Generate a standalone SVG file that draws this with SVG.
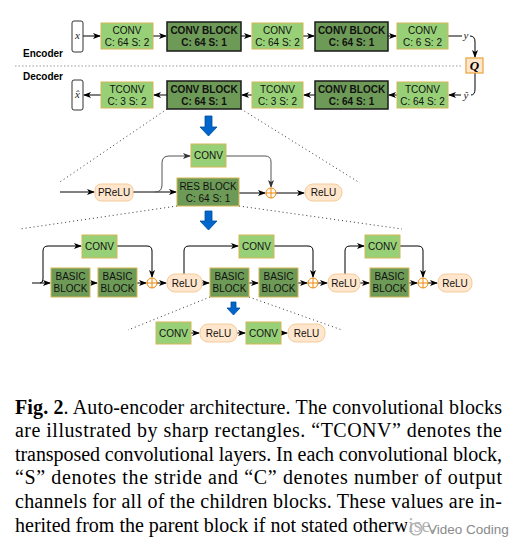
<svg xmlns="http://www.w3.org/2000/svg" width="518" height="554" viewBox="0 0 518 554">
<style>
.lg{fill:#97d077;stroke:#d6b656;stroke-width:1}
.dg{fill:#6d9a56;stroke:#1a1a1a;stroke-width:1.5}
.bb{fill:#6d9a56;stroke:#d6b656;stroke-width:1}
.pill{fill:#ffe6cc;stroke:#f3cc9a;stroke-width:1}
.io{fill:#fff;stroke:#333;stroke-width:1}
.t{font-family:"Liberation Sans",Arial,sans-serif;font-size:10px;text-anchor:middle;fill:#111}
.tb{font-family:"Liberation Sans",Arial,sans-serif;font-size:10px;font-weight:bold;text-anchor:middle;fill:#111}
.m{font-family:"Liberation Serif","Times New Roman",serif;font-style:italic;font-size:11px;text-anchor:middle;fill:#222}
.ln{fill:none;stroke:#000;stroke-width:1}
.gl{fill:none;stroke:#555;stroke-width:1}
.dot{fill:none;stroke:#333;stroke-width:1;stroke-dasharray:1,3}
.plus{fill:#fff;stroke:#f08705;stroke-width:1}
.blue{fill:#0066cc;stroke:#004c99;stroke-width:0.8}
.cap{font-family:"Liberation Serif","Times New Roman",serif;font-size:20px;fill:#000}
</style>
<defs>
<marker id="ar" markerWidth="8" markerHeight="6" refX="7" refY="3" orient="auto" markerUnits="userSpaceOnUse">
<path d="M0,0 L8,3 L0,6 L2,3 z" fill="#000"/>
</marker>
<marker id="ag" markerWidth="8" markerHeight="6" refX="7" refY="3" orient="auto" markerUnits="userSpaceOnUse">
<path d="M0,0 L8,3 L0,6 L2,3 z" fill="#333"/>
</marker>
</defs>
<rect width="518" height="554" fill="#fff"/>

<!-- labels -->
<text x="23" y="57" style="font-family:'Liberation Sans',Arial,sans-serif;font-size:10px;font-weight:bold">Encoder</text>
<text x="23" y="80" style="font-family:'Liberation Sans',Arial,sans-serif;font-size:10px;font-weight:bold">Decoder</text>
<line x1="15" y1="66" x2="462" y2="66" stroke="#999" stroke-width="1" stroke-dasharray="1.5,2"/>

<!-- connectors -->
<g id="connectors">
<line class="ln" x1="83" y1="36" x2="100" y2="36" marker-end="url(#ar)"/>
<line class="ln" x1="153" y1="36" x2="166" y2="36" marker-end="url(#ar)"/>
<line class="ln" x1="241" y1="36" x2="251" y2="36" marker-end="url(#ar)"/>
<line class="ln" x1="303" y1="36" x2="314" y2="36" marker-end="url(#ar)"/>
<line class="ln" x1="388" y1="36" x2="396" y2="36" marker-end="url(#ar)"/>
<line class="ln" x1="448" y1="36" x2="462" y2="36"/>
<path class="ln" d="M470,36 Q475,36 475,42 L475,57" marker-end="url(#ar)"/>
<path class="ln" d="M475,73 L475,89 Q475,95 471,95"/>
<line class="ln" x1="461" y1="95" x2="449" y2="95" marker-end="url(#ar)"/>
<line class="ln" x1="397" y1="95" x2="389" y2="95" marker-end="url(#ar)"/>
<line class="ln" x1="315" y1="95" x2="304" y2="95" marker-end="url(#ar)"/>
<line class="ln" x1="252" y1="95" x2="242" y2="95" marker-end="url(#ar)"/>
<line class="ln" x1="167" y1="95" x2="154" y2="95" marker-end="url(#ar)"/>
<line class="ln" x1="101" y1="95" x2="84" y2="95" marker-end="url(#ar)"/>

<!-- dotted expansions -->
<line class="dot" x1="167" y1="109" x2="60" y2="182"/>
<line class="dot" x1="241" y1="109" x2="360" y2="183"/>
<line class="dot" x1="177" y1="206" x2="20" y2="229"/>
<line class="dot" x1="239" y1="206" x2="402" y2="229"/>
<line class="dot" x1="210" y1="297" x2="128" y2="330"/>
<line class="dot" x1="249" y1="297" x2="342" y2="330"/>

<!-- residual block level -->
<line class="ln" x1="60" y1="192" x2="94" y2="192" marker-end="url(#ar)"/>
<line class="ln" x1="133" y1="192" x2="176" y2="192" marker-end="url(#ar)"/>
<path class="gl" d="M155,192 Q162,192 162,185 L162,163 Q162,156 169,156 L190,156" marker-end="url(#ag)"/>
<path class="gl" d="M226,156 L265,156 Q271,156 271,162 L271,187" marker-end="url(#ag)"/>
<line class="ln" x1="239" y1="193" x2="265" y2="193" marker-end="url(#ar)"/>
<line class="ln" x1="276" y1="193" x2="304" y2="193" marker-end="url(#ar)"/>

<!-- basic block level -->
<line class="ln" x1="32" y1="283" x2="50" y2="283" marker-end="url(#ar)"/>
<path class="ln" d="M40,283 Q43,283 43,279 L43,251 Q43,246 48,246 L81,246" marker-end="url(#ar)"/>
<line class="ln" x1="90" y1="283" x2="97" y2="283" marker-end="url(#ar)"/>
<line class="ln" x1="137" y1="283" x2="146" y2="283" marker-end="url(#ar)"/>
<path class="ln" d="M117,246 L147,246 Q152,246 152,251 L152,277" marker-end="url(#ar)"/>
<line class="ln" x1="157" y1="283" x2="166" y2="283" marker-end="url(#ar)"/>
<line class="ln" x1="202" y1="283" x2="209" y2="283" marker-end="url(#ar)"/>
<path class="ln" d="M184,274 L184,251 Q184,246 189,246 L238,246" marker-end="url(#ar)"/>
<line class="ln" x1="249" y1="283" x2="258" y2="283" marker-end="url(#ar)"/>
<line class="ln" x1="298" y1="283" x2="307" y2="283" marker-end="url(#ar)"/>
<path class="ln" d="M274,246 L308,246 Q313,246 313,251 L313,277" marker-end="url(#ar)"/>
<line class="ln" x1="318" y1="283" x2="327" y2="283" marker-end="url(#ar)"/>
<line class="ln" x1="360" y1="283" x2="369" y2="283" marker-end="url(#ar)"/>
<path class="ln" d="M345,274 L345,251 Q345,246 350,246 L364,246" marker-end="url(#ar)"/>
<line class="ln" x1="409" y1="283" x2="417" y2="283" marker-end="url(#ar)"/>
<path class="ln" d="M400,246 L418,246 Q423,246 423,251 L423,277" marker-end="url(#ar)"/>
<line class="ln" x1="428" y1="283" x2="437" y2="283" marker-end="url(#ar)"/>

<!-- bottom level -->
<line class="ln" x1="191" y1="333" x2="199" y2="333" marker-end="url(#ar)"/>
<line class="ln" x1="237" y1="333" x2="245" y2="333" marker-end="url(#ar)"/>
<line class="ln" x1="281" y1="333" x2="287" y2="333" marker-end="url(#ar)"/>
</g>

<!-- blue expansion arrows -->
<path class="blue" d="M205,116 L212,116 L212,127 L217,127 L208.5,136 L200,127 L205,127 z"/>
<path class="blue" d="M205,211 L212,211 L212,221 L217,221 L208.5,230 L200,221 L205,221 z"/>
<path class="blue" d="M231,302 L236,302 L236,308 L240,308 L233.5,315 L227,308 L231,308 z"/>

<!-- encoder nodes -->
<g id="x-in"><rect class="io" x="72" y="21" width="11" height="31" rx="2"/><text class="m" x="77.5" y="39">x</text></g>
<g id="enc-conv1"><rect class="lg" x="101" y="23" width="52" height="26"/><text class="t" x="127" y="34">CONV</text><text class="t" x="127" y="46">C: 64 S: 2</text></g>
<g id="enc-block1"><rect class="dg" x="167" y="22" width="74" height="29"/><text class="tb" x="204" y="34">CONV BLOCK</text><text class="tb" x="204" y="46">C: 64 S: 1</text></g>
<g id="enc-conv2"><rect class="lg" x="252" y="23" width="51" height="26"/><text class="t" x="277.5" y="34">CONV</text><text class="t" x="277.5" y="46">C: 64 S: 2</text></g>
<g id="enc-block2"><rect class="dg" x="315" y="22" width="73" height="29"/><text class="tb" x="351.5" y="34">CONV BLOCK</text><text class="tb" x="351.5" y="46">C: 64 S: 1</text></g>
<g id="enc-conv3"><rect class="lg" x="397" y="23" width="51" height="26"/><text class="t" x="422.5" y="34">CONV</text><text class="t" x="422.5" y="46">C: 6 S: 2</text></g>
<g id="y-label"><text class="m" x="466" y="39">y</text></g>
<g id="quant"><rect x="466" y="58" width="17" height="15" fill="#ffe6cc" stroke="#e8a33a" stroke-width="1.2"/><text x="474.5" y="70" style="font-family:'Liberation Serif','Times New Roman',serif;font-style:italic;font-weight:bold;font-size:13px;text-anchor:middle">Q</text></g>
<g id="yhat-label"><text class="m" x="466" y="99">ŷ</text></g>

<!-- decoder nodes -->
<g id="dec-tconv1"><rect class="lg" x="397" y="82" width="51" height="26"/><text class="t" x="422.5" y="93">TCONV</text><text class="t" x="422.5" y="105">C: 64 S: 2</text></g>
<g id="dec-block2"><rect class="dg" x="315" y="81" width="73" height="28"/><text class="tb" x="351.5" y="93">CONV BLOCK</text><text class="tb" x="351.5" y="105">C: 64 S: 1</text></g>
<g id="dec-tconv2"><rect class="lg" x="252" y="82" width="51" height="26"/><text class="t" x="277.5" y="93">TCONV</text><text class="t" x="277.5" y="105">C: 3 S: 2</text></g>
<g id="dec-block1"><rect class="dg" x="167" y="81" width="74" height="28"/><text class="tb" x="204" y="93">CONV BLOCK</text><text class="tb" x="204" y="105">C: 64 S: 1</text></g>
<g id="dec-tconv3"><rect class="lg" x="101" y="82" width="52" height="26"/><text class="t" x="127" y="93">TCONV</text><text class="t" x="127" y="105">C: 3 S: 2</text></g>
<g id="x-out"><rect class="io" x="72" y="80" width="11" height="30" rx="2"/><text class="m" x="77.5" y="98">x̂</text></g>

<!-- conv block expansion -->
<g id="prelu"><rect class="pill" x="95" y="184" width="38" height="17" rx="6"/><text class="t" x="114" y="196">PReLU</text></g>
<g id="cb-conv"><rect class="lg" x="191" y="144" width="35" height="23"/><text class="t" x="208.5" y="159">CONV</text></g>
<g id="res-block"><rect class="bb" x="177" y="178" width="62" height="28"/><text class="t" x="208" y="190">RES BLOCK</text><text class="t" x="208" y="202">C: 64 S: 1</text></g>
<g id="cb-plus"><circle class="plus" cx="271" cy="193" r="5"/><path d="M266,193 H276 M271,188 V198" stroke="#f08705" stroke-width="1"/></g>
<g id="cb-relu"><rect class="pill" x="305" y="184" width="37" height="17" rx="8"/><text class="t" x="323.5" y="196">ReLU</text></g>

<!-- res block expansion -->
<g id="rb-conv1"><rect class="lg" x="82" y="235" width="35" height="23"/><text class="t" x="99.5" y="250">CONV</text></g>
<g id="rb-bb1"><rect class="bb" x="51" y="268" width="39" height="29"/><text class="t" x="70.5" y="280">BASIC</text><text class="t" x="70.5" y="292">BLOCK</text></g>
<g id="rb-bb2"><rect class="bb" x="98" y="268" width="39" height="29"/><text class="t" x="117.5" y="280">BASIC</text><text class="t" x="117.5" y="292">BLOCK</text></g>
<g id="rb-plus1"><circle class="plus" cx="152" cy="283" r="5"/><path d="M147,283 H157 M152,278 V288" stroke="#f08705" stroke-width="1"/></g>
<g id="rb-relu1"><rect class="pill" x="167" y="274" width="35" height="18" rx="8"/><text class="t" x="184.5" y="287">ReLU</text></g>
<g id="rb-conv2"><rect class="lg" x="239" y="235" width="35" height="23"/><text class="t" x="256.5" y="250">CONV</text></g>
<g id="rb-bb3"><rect class="bb" x="210" y="268" width="39" height="29"/><text class="t" x="229.5" y="280">BASIC</text><text class="t" x="229.5" y="292">BLOCK</text></g>
<g id="rb-bb4"><rect class="bb" x="259" y="268" width="39" height="29"/><text class="t" x="278.5" y="280">BASIC</text><text class="t" x="278.5" y="292">BLOCK</text></g>
<g id="rb-plus2"><circle class="plus" cx="313" cy="283" r="5"/><path d="M308,283 H318 M313,278 V288" stroke="#f08705" stroke-width="1"/></g>
<g id="rb-relu2"><rect class="pill" x="328" y="274" width="32" height="18" rx="8"/><text class="t" x="344" y="287">ReLU</text></g>
<g id="rb-conv3"><rect class="lg" x="365" y="235" width="35" height="23"/><text class="t" x="382.5" y="250">CONV</text></g>
<g id="rb-bb5"><rect class="bb" x="370" y="268" width="39" height="29"/><text class="t" x="389.5" y="280">BASIC</text><text class="t" x="389.5" y="292">BLOCK</text></g>
<g id="rb-plus3"><circle class="plus" cx="423" cy="283" r="5"/><path d="M418,283 H428 M423,278 V288" stroke="#f08705" stroke-width="1"/></g>
<g id="rb-relu3"><rect class="pill" x="438" y="274" width="34" height="18" rx="8"/><text class="t" x="455" y="287">ReLU</text></g>

<!-- basic block expansion -->
<g id="bb-conv1"><rect class="lg" x="156" y="322" width="35" height="22"/><text class="t" x="173.5" y="337">CONV</text></g>
<g id="bb-relu1"><rect class="pill" x="200" y="324" width="37" height="18" rx="8"/><text class="t" x="218.5" y="337">ReLU</text></g>
<g id="bb-conv2"><rect class="lg" x="246" y="322" width="35" height="22"/><text class="t" x="263.5" y="337">CONV</text></g>
<g id="bb-relu2"><rect class="pill" x="288" y="324" width="37" height="18" rx="8"/><text class="t" x="306.5" y="337">ReLU</text></g>

<!-- caption -->
<g id="caption">
<text class="cap" x="15" y="414" textLength="487" lengthAdjust="spacing"><tspan font-weight="bold">Fig. 2</tspan>. Auto-encoder architecture. The convolutional blocks</text>
<text class="cap" x="15" y="437" textLength="487" lengthAdjust="spacing">are illustrated by sharp rectangles.  “TCONV” denotes the</text>
<text class="cap" x="15" y="461" textLength="487" lengthAdjust="spacing">transposed convolutional layers. In each convolutional block,</text>
<text class="cap" x="15" y="484" textLength="487" lengthAdjust="spacing">“S” denotes the stride and “C” denotes number of output</text>
<text class="cap" x="15" y="508" textLength="487" lengthAdjust="spacing">channels for all of the children blocks. These values are in-</text>
<text class="cap" x="15" y="532">herited from the parent block if not stated otherwise.</text>
<rect x="407" y="515" width="100" height="24" fill="#fff" opacity="0.7"/>
<circle cx="416" cy="529" r="6" fill="none" stroke="#aaa" stroke-width="1.2"/>
<text x="428" y="534" style="font-family:'Liberation Sans',Arial,sans-serif;font-size:13.5px;fill:#8a8a8a">Video Coding</text>
</g>
</svg>
